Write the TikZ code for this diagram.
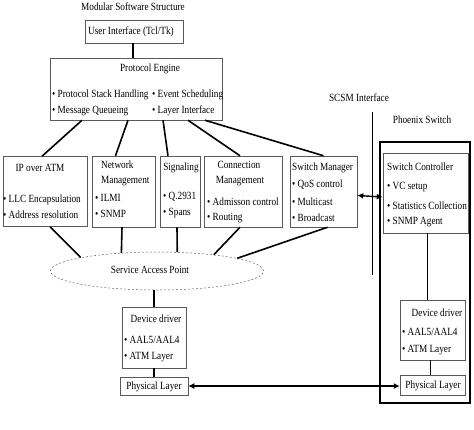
\documentclass[tikz,border=0pt]{standalone}
\usepackage{fontspec}
\setmainfont{Liberation Serif}[FakeStretch=0.84]
\usetikzlibrary{shapes.geometric,arrows.meta}

\begin{document}
\begin{tikzpicture}[x=1pt,y=-1pt,
        every node/.style={font=\fontsize{11}{13}\selectfont, inner sep=0pt},
        box/.style={draw=black!65, line width=0.5pt, rectangle},
        link/.style={line width=1.6pt},
        thinlink/.style={line width=0.9pt},
        dlink/.style={line width=1.4pt, {Latex[length=6pt,width=6pt]}-{Latex[length=6pt,width=6pt]}}]
    \useasboundingbox (0,0) rectangle (474,429);

    \node (title) at (133,7) {Modular Software Structure};

    \node[box, minimum width=98, minimum height=23] (ui) at (134,31.5) {};
    \node (uitxt) at (131,32) {User Interface (Tcl/Tk)};

    \node[box, minimum width=172, minimum height=62] (pe) at (136,89) {};
    \node (petxt) at (150,69) {Protocol Engine};
    \node[anchor=west] (pe1) at (52,95) {\textbullet\ Protocol Stack Handling};
    \node[anchor=west] (pe2) at (52,111) {\textbullet\ Message Queueing};
    \node[anchor=west] (pe3) at (152,95) {\textbullet\ Event Scheduling};
    \node[anchor=west] (pe4) at (152,111) {\textbullet\ Layer Interface};

    \node[box, minimum width=84, minimum height=70] (ip) at (45,191.5) {};
    \node (iptxt) at (40,168) {IP over ATM};
    \node[anchor=west] (ip1) at (3,200) {\textbullet\ LLC Encapsulation};
    \node[anchor=west] (ip2) at (3,215) {\textbullet\ Address resolution};

    \node[box, minimum width=63, minimum height=71] (nm) at (123.5,191.5) {};
    \node[anchor=west] (nmtxt1) at (101,165) {Network};
    \node[anchor=west] (nmtxt2) at (101,181) {Management};
    \node[anchor=west] (nm1) at (95,198) {\textbullet\ ILMI};
    \node[anchor=west] (nm2) at (95,214) {\textbullet\ SNMP};

    \node[box, minimum width=40, minimum height=71] (sig) at (180,191.5) {};
    \node (sigtxt) at (181,168) {Signaling};
    \node[anchor=west] (sig1) at (163,197) {\textbullet\ Q.2931};
    \node[anchor=west] (sig2) at (163,213) {\textbullet\ Spans};

    \node[box, minimum width=78, minimum height=71] (cm) at (243,191.5) {};
    \node (cmtxt1) at (239,165) {Connection};
    \node (cmtxt2) at (240,181) {Management};
    \node[anchor=west] (cm1) at (207,202) {\textbullet\ Admisson control};
    \node[anchor=west] (cm2) at (207,218) {\textbullet\ Routing};

    \node[box, minimum width=67, minimum height=71] (swm) at (323.5,191.5) {};
    \node[anchor=west] (swmtxt) at (292,168) {Switch Manager};
    \node[anchor=west] (swm1) at (292,185) {\textbullet\ QoS control};
    \node[anchor=west] (swm2) at (292,202) {\textbullet\ Multicast};
    \node[anchor=west] (swm3) at (292,218) {\textbullet\ Broadcast};

    \node[ellipse, draw=black!60, dash pattern=on 2pt off 2pt, line width=0.5pt,
        minimum width=213, minimum height=38] (sap) at (157,271) {};
    \node (saptxt) at (150,270) {Service Access Point};

    \node[box, minimum width=64, minimum height=61] (dd1) at (154,337.5) {};
    \node (dd1txt) at (156,319) {Device driver};
    \node[anchor=west] (dd11) at (124,340) {\textbullet\ AAL5/AAL4};
    \node[anchor=west] (dd12) at (124,357) {\textbullet\ ATM Layer};

    \node[box, minimum width=68, minimum height=18] (pl1) at (154,386) {};
    \node (pl1txt) at (154,387) {Physical Layer};

    \node (scsmtxt) at (359,98) {SCSM Interface};
    \coordinate (scsmtop) at (372,112);
    \coordinate (scsmbot) at (372,275);
    \draw[line width=1pt] (scsmtop) -- (scsmbot);

    \node (phxtxt) at (422,120) {Phoenix Switch};
    \node[draw, line width=1.4pt, minimum width=90, minimum height=261] (phx) at (425,272.5) {};

    \node[box, minimum width=85, minimum height=80] (sc) at (425.5,193) {};
    \node[anchor=west] (sctxt) at (387,167) {Switch Controller};
    \node[anchor=west] (sc1) at (387,187) {\textbullet\ VC setup};
    \node[anchor=west] (sc2) at (387,206) {\textbullet\ Statistics Collection};
    \node[anchor=west] (sc3) at (387,222) {\textbullet\ SNMP Agent};

    \node[box, minimum width=65, minimum height=60] (dd2) at (432.5,330) {};
    \node (dd2txt) at (437,313) {Device driver};
    \node[anchor=west] (dd21) at (402,332) {\textbullet\ AAL5/AAL4};
    \node[anchor=west] (dd22) at (402,350) {\textbullet\ ATM Layer};

    \node[box, minimum width=65, minimum height=20] (pl2) at (432.5,385) {};
    \node (pl2txt) at (433,386) {Physical Layer};

    \draw[link] (ui.south -| 133,0) -- (pe.north -| 133,0);
    \draw[link] ([xshift=-54]pe.south) -- ([xshift=-3]ip.north);
    \draw[link] ([xshift=-8]pe.south) -- ([xshift=-8]nm.north);
    \draw[link] ([xshift=27]pe.south) -- ([xshift=-12]sig.north);
    \draw[link] ([xshift=52]pe.south) -- ([xshift=-3]cm.north);
    \draw[link] ([xshift=69]pe.south) -- (swm.north);

    \draw[link] ([xshift=5]ip.south) -- (sap.170);
    \draw[link] ([xshift=-1.5]nm.south) -- (sap.153);
    \draw[link] ([xshift=-3]sig.south) -- (sap.43);
    \draw[link] ([xshift=-3]cm.south) -- (sap.16);
    \draw[link] ([xshift=4]swm.south) -- (sap.9);

    \draw[link] (sap.south -| dd1.north) -- (dd1.north);
    \draw[link] (dd1.south) -- (pl1.north);
    \draw[thinlink] ([xshift=1.5]sc.south) -- ([xshift=1.5]sc.south |- dd2.north);
    \draw[thinlink] ([xshift=-2]dd2.south) -- ([xshift=-2]pl2.north);

    \draw[dlink] ([yshift=-4]swm.east) -- ([yshift=-4]sc.west);
    \draw[dlink] (pl1.east) -- (pl1.east -| pl2.west);
\end{tikzpicture}
\end{document}
